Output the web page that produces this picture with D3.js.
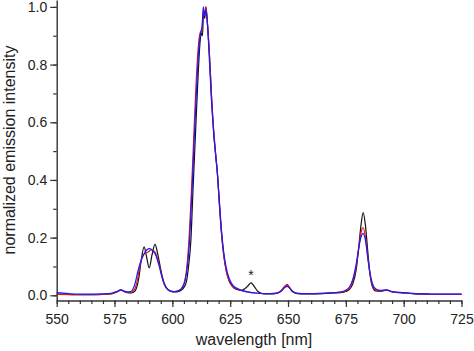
<!DOCTYPE html>
<html>
<head>
<meta charset="utf-8">
<script src="https://cdn.jsdelivr.net/npm/d3@7"></script>
<style>
  body { margin: 0; background: #fff; }
  text { font-family: Arial, "Liberation Sans", sans-serif; }
</style>
</head>
<body>
<script>
// tick labels
var xTicks = [550, 575, 600, 625, 650, 675, 700, 725];
var yTicks = [0, 0.2, 0.4, 0.6, 0.8, 1.0];

// black spectrum
var blackNm = [550,555,560,565,570,574,576,577.8,579,580.5,582,583.5,584.5,585.5,586.5,587.8,588.8,590,591.2,592.5,593.5,594.5,595.5,596.5,598,600,602,603,604.5,606,607,608,609,610,611,612,612.5,613.0,613.5,614.0,614.5,615.1,616,617,618,618.8,619.5,620.3,621.2,622.2,623.3,624.5,626,628,630,631.5,632.8,634,635.3,637,639,642,645,647,648.5,649.6,650.8,652,654,658,665,670,674,676.5,678,679.5,680.5,681.5,682.5,683.5,684.5,685.5,686.5,688,690,692.5,695,700,705,710,715,720,725];
var blackI = [0.004,0.003,0.002,0.002,0.003,0.006,0.012,0.019,0.014,0.009,0.008,0.012,0.025,0.06,0.12,0.168,0.135,0.095,0.14,0.177,0.15,0.11,0.07,0.04,0.02,0.012,0.012,0.014,0.022,0.045,0.10,0.19,0.38,0.56,0.74,0.88,0.91,0.90,0.98,0.96,1.0,0.95,0.84,0.68,0.55,0.48,0.42,0.32,0.22,0.14,0.085,0.05,0.03,0.02,0.017,0.024,0.034,0.043,0.032,0.013,0.006,0.005,0.007,0.015,0.03,0.037,0.025,0.012,0.006,0.005,0.006,0.008,0.011,0.02,0.04,0.09,0.16,0.24,0.287,0.24,0.15,0.07,0.03,0.015,0.014,0.018,0.012,0.008,0.005,0.004,0.003,0.003,0.003];

// red spectrum
var redNm = [550,560,570,574,576,577.8,579,580.5,582,583.5,584.5,585.5,586.5,588,589.5,591,592.5,593.5,594.5,595.5,596.5,598,600,602,603.5,605,606,607,608,609,610,611,612,612.8,613.5,614.0,614.5,615.1,616,617,618,618.8,619.5,620.3,621.2,622.2,623.3,624.5,626,628,630,633,636,640,645,647,648.5,649.6,650.8,652,654,658,665,670,674,676.5,678,679.5,680.5,681.5,682.5,683.5,684.5,685.5,686.5,688,690,692.5,695,700,705,710,715,720,725];
var redI = [0.003,0.002,0.003,0.006,0.012,0.018,0.014,0.01,0.01,0.018,0.04,0.08,0.12,0.145,0.15,0.158,0.15,0.13,0.10,0.065,0.038,0.02,0.013,0.014,0.02,0.04,0.08,0.17,0.32,0.50,0.69,0.84,0.91,0.92,0.99,0.97,1.0,0.95,0.84,0.68,0.56,0.48,0.42,0.32,0.22,0.14,0.085,0.052,0.032,0.022,0.016,0.011,0.008,0.006,0.008,0.016,0.03,0.035,0.026,0.014,0.007,0.006,0.007,0.009,0.013,0.024,0.05,0.10,0.16,0.215,0.235,0.20,0.13,0.07,0.035,0.018,0.015,0.018,0.012,0.008,0.005,0.004,0.003,0.003,0.003];

// blue spectrum
var blueNm = [550,555,560,565,570,574,576,577.8,579,580.5,582,583,584,585,586,587.5,589,590.2,591.5,592.8,594,595,596,597.5,599,601,603,604.5,605.5,606.5,607.5,608.5,609.5,610.5,611.3,612.2,612.8,613.4,614.0,614.5,615.0,615.8,616.8,617.8,618.7,619.4,620.3,621.2,622.2,623.3,624.5,626,628,630,633,636,640,645,647,648.5,649.6,650.8,652,654,658,665,670,674,676.5,678,679.5,680.5,681.5,682.4,683.5,684.5,685.5,686.5,688,690,692.5,695,700,705,710,715,720,725];
var blueI = [0.009,0.006,0.004,0.004,0.005,0.008,0.013,0.019,0.015,0.012,0.013,0.022,0.045,0.08,0.11,0.14,0.158,0.162,0.155,0.14,0.11,0.08,0.05,0.026,0.016,0.013,0.017,0.03,0.05,0.10,0.20,0.36,0.55,0.72,0.84,0.91,0.93,1.0,0.97,0.99,0.96,0.85,0.69,0.57,0.49,0.43,0.33,0.23,0.15,0.095,0.06,0.036,0.024,0.017,0.011,0.008,0.006,0.007,0.014,0.026,0.031,0.024,0.013,0.007,0.006,0.007,0.009,0.014,0.028,0.055,0.11,0.16,0.2,0.215,0.19,0.13,0.075,0.04,0.022,0.017,0.019,0.013,0.009,0.006,0.005,0.004,0.004,0.004];

var width = 474, height = 351;
var svg = d3.select("body").append("svg").attr("width", width).attr("height", height);

var x = d3.scaleLinear().domain([550, 725]).range([56.7, 461.5]);
var y = d3.scaleLinear().domain([-0.018, 1.024]).range([300.5, 0]);

var axisColor = "#333";

// minor ticks first
svg.append("g").attr("transform", "translate(0,300.5)")
    .call(d3.axisBottom(x).tickValues(d3.range(550, 726, 5)).tickSize(3.5).tickFormat(""))
    .call(function (g) { g.select(".domain").remove(); g.selectAll("line").attr("stroke", axisColor).attr("stroke-width", 1.2); });
svg.append("g").attr("transform", "translate(56.7,0)")
    .call(d3.axisLeft(y).tickValues(d3.range(0, 1.01, 0.1)).tickSize(3.5).tickFormat(""))
    .call(function (g) { g.select(".domain").remove(); g.selectAll("line").attr("stroke", axisColor).attr("stroke-width", 1.2); });

// major axes
var xAxis = svg.append("g").attr("transform", "translate(0,300.5)")
    .call(d3.axisBottom(x).tickValues(xTicks).tickSize(6.5).tickSizeOuter(0).tickPadding(7));
var yAxis = svg.append("g").attr("transform", "translate(56.7,0)")
    .call(d3.axisLeft(y).tickValues(yTicks).tickSize(6.5).tickSizeOuter(0).tickPadding(3).tickFormat(d3.format(".1f")));

[xAxis, yAxis].forEach(function (g) {
    g.select(".domain").attr("stroke", axisColor).attr("stroke-width", 1.4);
    g.selectAll("line").attr("stroke", axisColor).attr("stroke-width", 1.2);
    g.selectAll("text").attr("font-size", 14).attr("fill", "#222")
        .attr("font-family", "Arial, 'Liberation Sans', sans-serif");
});

// axis titles
svg.append("text").attr("x", 254).attr("y", 345).attr("text-anchor", "middle")
    .attr("font-size", 16).attr("fill", "#222").text("wavelength [nm]");
svg.append("text").attr("transform", "translate(15,150) rotate(-90)").attr("text-anchor", "middle")
    .attr("font-size", 16).attr("fill", "#222").text("normalized emission intensity");

// spectra
var line = d3.line().curve(d3.curveMonotoneX)
    .x(function (d) { return x(d[0]); })
    .y(function (d) { return y(d[1]); });

var series = [
    { nm: blackNm, v: blackI, color: "#111" },
    { nm: redNm, v: redI, color: "#e8141c" },
    { nm: blueNm, v: blueI, color: "#1a1aff" }
];
series.forEach(function (s) {
    var pts = s.nm.map(function (n, i) { return [n, s.v[i]]; });
    svg.append("path").datum(pts).attr("d", line)
        .attr("fill", "none").attr("stroke", s.color).attr("stroke-width", 1.2);
});

// marker for the 634 nm band
svg.append("text").attr("x", x(634)).attr("y", y(0.043) - 3).attr("text-anchor", "middle")
    .attr("font-size", 14).attr("fill", "#222").text("*");
</script>
</body>
</html>
